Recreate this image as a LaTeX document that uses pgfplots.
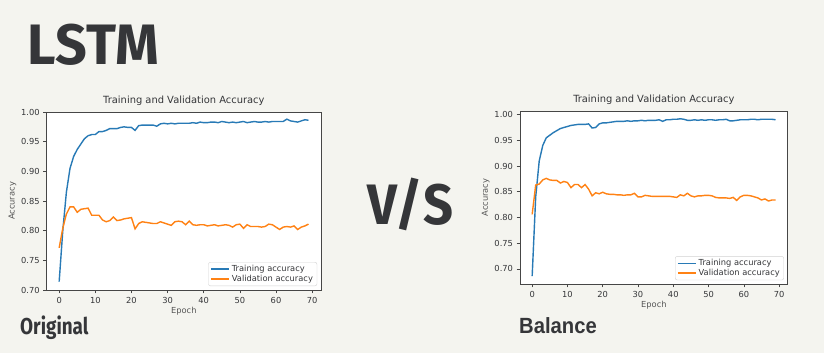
\documentclass[border=0pt]{standalone}
\usepackage{fontspec}
\setmainfont{DejaVu Sans}
\newfontfamily\fira{Fira Sans}
\newfontfamily\libsans{Liberation Sans}
\usepackage{pgfplots}
\pgfplotsset{compat=1.18}
\usepackage{pgfplotstable}

\definecolor{bg}{RGB}{244,244,239}
\definecolor{tblue}{RGB}{40,122,182}
\definecolor{torange}{RGB}{255,130,20}
\definecolor{ink}{RGB}{53,54,57}
\definecolor{axgray}{RGB}{70,70,70}
\definecolor{lblgray}{RGB}{85,85,85}
\definecolor{legdraw}{RGB}{210,210,210}

\pgfplotstableread{
ep tr va
0 0.714 0.771
1 0.800 0.804
2 0.865 0.828
3 0.905 0.840
4 0.925 0.840
5 0.937 0.831
6 0.946 0.836
7 0.955 0.837
8 0.960 0.838
9 0.962 0.826
10 0.962 0.826
11 0.967 0.826
12 0.967 0.818
13 0.969 0.815
14 0.972 0.817
15 0.972 0.823
16 0.972 0.817
17 0.974 0.818
18 0.975 0.820
19 0.974 0.821
20 0.974 0.822
21 0.969 0.803
22 0.977 0.812
23 0.978 0.815
24 0.978 0.814
25 0.978 0.813
26 0.978 0.812
27 0.976 0.812
28 0.980 0.815
29 0.981 0.813
30 0.980 0.811
31 0.981 0.809
32 0.980 0.815
33 0.981 0.816
34 0.981 0.815
35 0.981 0.810
36 0.981 0.816
37 0.982 0.810
38 0.981 0.809
39 0.983 0.810
40 0.982 0.810
41 0.982 0.808
42 0.983 0.809
43 0.983 0.810
44 0.982 0.808
45 0.984 0.809
46 0.983 0.810
47 0.982 0.809
48 0.983 0.806
49 0.982 0.810
50 0.983 0.811
51 0.984 0.804
52 0.982 0.810
53 0.983 0.807
54 0.984 0.807
55 0.983 0.807
56 0.983 0.806
57 0.984 0.807
58 0.983 0.811
59 0.984 0.810
60 0.984 0.806
61 0.984 0.802
62 0.984 0.806
63 0.988 0.807
64 0.985 0.806
65 0.984 0.808
66 0.983 0.802
67 0.985 0.806
68 0.987 0.808
69 0.986 0.811
}\origdata

\pgfplotstableread{
ep tr va
0 0.686 0.806
1 0.840 0.863
2 0.910 0.865
3 0.940 0.873
4 0.955 0.876
5 0.960 0.873
6 0.965 0.872
7 0.969 0.872
8 0.973 0.867
9 0.975 0.870
10 0.977 0.868
11 0.979 0.858
12 0.980 0.864
13 0.981 0.864
14 0.981 0.858
15 0.981 0.864
16 0.982 0.855
17 0.974 0.842
18 0.975 0.848
19 0.982 0.846
20 0.984 0.849
21 0.984 0.846
22 0.985 0.845
23 0.986 0.845
24 0.987 0.844
25 0.987 0.844
26 0.987 0.843
27 0.988 0.844
28 0.987 0.844
29 0.988 0.847
30 0.988 0.840
31 0.989 0.840
32 0.988 0.843
33 0.989 0.842
34 0.989 0.841
35 0.989 0.841
36 0.990 0.841
37 0.987 0.841
38 0.990 0.841
39 0.990 0.841
40 0.991 0.840
41 0.991 0.839
42 0.992 0.844
43 0.991 0.842
44 0.989 0.847
45 0.989 0.842
46 0.990 0.840
47 0.989 0.842
48 0.990 0.842
49 0.989 0.843
50 0.990 0.843
51 0.990 0.842
52 0.989 0.839
53 0.990 0.838
54 0.990 0.838
55 0.991 0.838
56 0.988 0.837
57 0.988 0.839
58 0.989 0.833
59 0.990 0.840
60 0.990 0.843
61 0.990 0.843
62 0.991 0.842
63 0.991 0.840
64 0.990 0.838
65 0.991 0.834
66 0.991 0.836
67 0.991 0.832
68 0.991 0.834
69 0.990 0.834
}\baldata

\pgfplotsset{
  accstyle/.style={
    scale only axis,
    axis background/.style={fill=white},
    xmin=-3.45, xmax=72.45,
    xtick={0,10,20,30,40,50,60,70},
    ytick={0.70,0.75,0.80,0.85,0.90,0.95,1.00},
    yticklabel style={/pgf/number format/.cd,fixed,fixed zerofill,precision=2},
    /pgf/number format/assume math mode=true,
    tick pos=left,
    tick align=outside,
    major tick length=3.5pt,
    tick style={axgray, line width=0.6pt},
    axis line style={axgray, line width=0.6pt},
    ticklabel style={font=\fontsize{8.3}{9.5}\selectfont, text=ink},
    title={Training and Validation Accuracy},
    title style={font=\fontsize{9.9}{11}\selectfont, text=ink, yshift=-3.5pt},
    xlabel={Epoch}, ylabel={Accuracy},
    label style={font=\fontsize{8.3}{9.5}\selectfont, text=lblgray},
    xlabel style={yshift=3pt},
    ylabel style={yshift=-2pt},
    legend style={at={(0.986,0.022)}, anchor=south east,
      draw=legdraw, rounded corners=2pt,
      fill=white, fill opacity=0.8, text opacity=1,
      font=\fontsize{8.3}{9.5}\selectfont, text=ink,
      inner xsep=2pt, inner ysep=1pt, row sep=-2pt,
      cells={anchor=west}},
    legend image code/.code={\draw[##1, line width=1.4pt] (0pt,0pt) -- (18pt,0pt);},
  }
}

\begin{document}
\begin{tikzpicture}[x=1pt,y=1pt]
\fill[bg] (0,0) rectangle (824,353);
\useasboundingbox (0,0) rectangle (824,353);

\node[anchor=base west, inner sep=0pt, text=ink, font={\fira\bfseries\fontsize{57}{60}\selectfont}] at (27.5,288) {\scalebox{0.975}[1]{LSTM}};
\node[anchor=base west, inner sep=0pt, text=ink, font={\fira\bfseries\fontsize{57}{60}\selectfont}] at (367,128) {\scalebox{0.92}[1]{V/S}};
\node[anchor=base west, inner sep=0pt, text=ink, font={\fira\bfseries\fontsize{23}{25}\selectfont}] at (20,18) {\scalebox{0.82}[1]{Original}};
\node[anchor=base west, inner sep=0pt, text=ink, font={\libsans\bfseries\fontsize{22}{24}\selectfont}] at (519,19.5) {\scalebox{0.92}[1]{Balance}};

\begin{axis}[accstyle, at={(46.7pt,63pt)}, anchor=south west,
  width=274.3pt, height=178pt, ymin=0.70, ymax=1.00]
\addplot[tblue, line width=1.4pt, no markers] table[x=ep, y=tr] {\origdata};
\addlegendentry{Training accuracy}
\addplot[torange, line width=1.4pt, no markers] table[x=ep, y=va] {\origdata};
\addlegendentry{Validation accuracy}
\end{axis}

\begin{axis}[accstyle, at={(520pt,69pt)}, anchor=south west,
  width=267.7pt, height=173pt, ymin=0.6705, ymax=1.0071]
\addplot[tblue, line width=1.4pt, no markers] table[x=ep, y=tr] {\baldata};
\addlegendentry{Training accuracy}
\addplot[torange, line width=1.4pt, no markers] table[x=ep, y=va] {\baldata};
\addlegendentry{Validation accuracy}
\end{axis}
\end{tikzpicture}
\end{document}
